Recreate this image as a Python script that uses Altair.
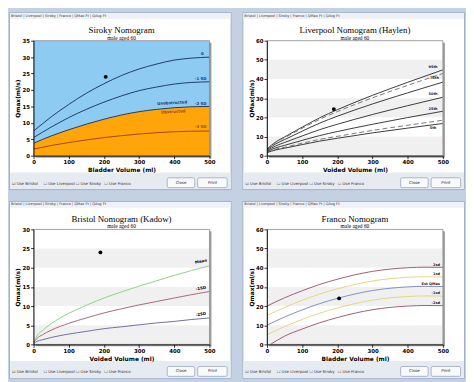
import altair as alt
import pandas as pd

W, H = 179, 117

# ---------------- data ----------------
siroky_x = [0, 50, 100, 150, 200, 250, 300, 350, 400, 450, 500]
siroky_0 = [7.5, 11.8, 15.6, 19.0, 21.9, 24.4, 26.4, 27.9, 29.1, 29.7, 30.0]
siroky_m1 = [5.5, 8.7, 11.6, 14.1, 16.3, 18.2, 19.8, 20.9, 21.8, 22.3, 22.5]
siroky_m2 = [3.8, 6.0, 7.9, 9.6, 11.1, 12.4, 13.4, 14.1, 14.6, 14.9, 15.0]
siroky_m3 = [2.0, 3.1, 4.0, 4.8, 5.5, 6.1, 6.6, 7.0, 7.3, 7.45, 7.5]

liv_x = [0, 25, 50, 100, 150, 200, 300, 400, 500]
liv_95 = [3.5, 7.2, 9.8, 14.9, 19.8, 24.0, 31.5, 38.3, 44.8]
liv_d_hi = [3.4, 7.0, 9.4, 14.3, 19.0, 23.0, 30.2, 36.7, 42.9]
liv_75 = [3.0, 6.2, 8.4, 12.8, 17.0, 20.6, 27.0, 32.8, 38.4]
liv_50 = [2.6, 5.1, 6.9, 10.3, 13.6, 16.4, 21.5, 26.1, 30.5]
liv_25 = [2.2, 4.1, 5.4, 8.0, 10.5, 12.6, 16.4, 19.9, 23.2]
liv_d_lo = [1.9, 3.4, 4.4, 6.5, 8.5, 10.1, 13.2, 15.9, 18.5]
liv_5 = [1.6, 3.0, 3.9, 5.8, 7.6, 9.1, 11.9, 14.4, 16.8]

bri_x = [0, 10, 25, 50, 100, 150, 200, 250, 300, 350, 400, 450, 500]
bri_mean = [0.5, 2.3, 3.6, 5.4, 8.1, 10.2, 12.1, 13.7, 15.2, 16.6, 18.0, 19.3, 20.5]
bri_m1 = [0.4, 1.6, 2.5, 3.7, 5.5, 6.9, 8.2, 9.3, 10.3, 11.2, 12.1, 13.0, 13.8]
bri_m2 = [0.2, 0.8, 1.2, 1.8, 2.7, 3.4, 4.1, 4.6, 5.1, 5.6, 6.0, 6.5, 6.9]

fra_x = [0, 50, 100, 150, 200, 250, 300, 350, 400, 450, 500]
fra_p2 = [20.0, 24.3, 28.0, 31.3, 34.0, 36.3, 38.1, 39.3, 40.0, 40.3, 40.2]
fra_p1 = [15.0, 19.3, 23.0, 26.3, 29.0, 31.3, 33.1, 34.3, 35.0, 35.3, 35.2]
fra_est = [10.0, 14.3, 18.0, 21.3, 24.0, 26.3, 28.1, 29.3, 30.0, 30.3, 30.2]
fra_m1 = [5.0, 9.3, 13.0, 16.3, 19.0, 21.3, 23.1, 24.3, 25.0, 25.3, 25.2]
fra_m2_x = [10, 50, 100, 150, 200, 250, 300, 350, 400, 450, 500]
fra_m2 = [0.0, 4.3, 8.0, 11.3, 14.0, 16.3, 18.1, 19.3, 20.0, 20.3, 20.2]

bands_60_lo = [0, 20, 40]
bands_60_hi = [10, 30, 50]
bands_30_lo = [0, 10, 20]
bands_30_hi = [5, 15, 25]

patient_siroky = (205, 24)
patient_liv = (190, 24.3)
patient_bri = (190, 24)
patient_fra = (205, 24)

dummy = pd.DataFrame({"d": [0]})
SANS = "DejaVu Sans"
SERIF = "Liberation Serif, Times New Roman, serif"

WX0, WX1, WY0, WY1 = -24.5, 201, -28.5, 151.5


def rect(x, x2, y, y2, **kw):
    return alt.Chart(dummy).mark_rect(**kw).encode(
        x=alt.value(x), x2=alt.value(x2), y=alt.value(y), y2=alt.value(y2))


def label(text, x, y, **kw):
    if "font" not in kw:
        kw["font"] = SANS
    return alt.Chart(dummy).mark_text(text=text, **kw).encode(
        x=alt.value(x), y=alt.value(y))


def chrome(title, subtitle):
    return [
        rect(WX0, WX1, WY0, WY1, fill="white", stroke="#9fb0c8", strokeWidth=1),
        rect(WX0 + 0.5, WX1 - 0.5, WY0 + 0.5, -22, fill="#eef1f5"),
        label("Bristol | Liverpool | Siroky | Franco | QMax Ft | QAvg Ft", -23, -25.5,
              fontSize=3.6, align="left", baseline="middle", color="#333"),
        rect(WX0 + 0.5, WX1 - 0.5, 134, WY1 - 0.5, fill="#e6ebf2"),
        label("\u2611 Use Bristol", -22, 145.5, fontSize=4, align="left", baseline="middle", color="#333"),
        label("\u2610 Use Liverpool", 10, 145.5, fontSize=4, align="left", baseline="middle", color="#333"),
        label("\u2610 Use Siroky", 43, 145.5, fontSize=4, align="left", baseline="middle", color="#333"),
        label("\u2610 Use Franco", 72, 145.5, fontSize=4, align="left", baseline="middle", color="#333"),
        rect(136, 164, 139.5, 149.5, fill="#f8f9fb", stroke="#8e9bb0", strokeWidth=0.7, cornerRadius=1.5),
        rect(167, 197, 139.5, 149.5, fill="#f8f9fb", stroke="#8e9bb0", strokeWidth=0.7, cornerRadius=1.5),
        label("Close", 150, 144.5, fontSize=4, align="center", baseline="middle", color="#222"),
        label("Print", 182, 144.5, fontSize=4, align="center", baseline="middle", color="#222"),
        label(title, W / 2, -10.5, font=SERIF, fontSize=9, align="center", color="black"),
        label(subtitle, W / 2, -3, font=SERIF, fontSize=5.5, align="center", color="black"),
        rect(2, W + 2, 2, H + 2, fill="#9c9c9c"),
    ]


AX = dict(zindex=1, grid=False, tickSize=3, tickColor="black", domainColor="black",
          labelColor="black", labelFont=SANS, labelFontSize=5.5, labelFontWeight="bold",
          labelPadding=1, titleFont=SANS, titleFontSize=6, titleFontWeight="bold",
          titleColor="black", titlePadding=1.5, tickWidth=0.8, domainWidth=0.8)


def xaxis(title):
    return alt.Axis(title=title, values=[0, 100, 200, 300, 400, 500], labelFlush=False, **AX)


def yaxis(title, vals):
    return alt.Axis(title=title, values=vals, **AX)


def enc(xtitle, ytitle, ymax, ystep):
    xe = alt.X("x:Q", scale=alt.Scale(domain=[0, 500], nice=False), axis=xaxis(xtitle))
    ye = alt.Y("y:Q", scale=alt.Scale(domain=[0, ymax], nice=False),
               axis=yaxis(ytitle, list(range(0, ymax + 1, ystep))))
    return xe, ye


def curve_layer(xs, ys, xe, ye, color, dash=None, width=1.0):
    df = pd.DataFrame({"x": xs, "y": ys})
    kw = dict(color=color, strokeWidth=width, interpolate="monotone")
    if dash:
        kw["strokeDash"] = dash
    return alt.Chart(df).mark_line(**kw).encode(x=xe, y=ye)


def text_layer(xs, ys, texts, xe, ye, color="black", size=4.5, angle=0, align="center", baseline="middle"):
    df = pd.DataFrame({"x": xs, "y": ys, "t": texts})
    return alt.Chart(df).mark_text(color=color, fontSize=size, fontWeight="bold", font=SANS,
                                   angle=angle, align=align, baseline=baseline).encode(
        x=xe, y=ye, text="t:N")


def dot_layer(p, xe, ye):
    df = pd.DataFrame({"x": [p[0]], "y": [p[1]]})
    return alt.Chart(df).mark_circle(size=16, color="black", opacity=1).encode(x=xe, y=ye)


def bands_layer(lo, hi, ymax, ystep, ytitle):
    df = pd.DataFrame({"lo": lo, "hi": hi})
    return alt.Chart(df).mark_rect(color="#f0f0f0").encode(
        x=alt.value(0), x2=alt.value(W),
        y=alt.Y("lo:Q", scale=alt.Scale(domain=[0, ymax], nice=False),
                axis=yaxis(ytitle, list(range(0, ymax + 1, ystep)))),
        y2="hi:Q")


border = rect(0, W, 0, H, fillOpacity=0, stroke="#8a8a8a", strokeWidth=0.8)

# ---------------- Siroky ----------------
xe, ye = enc("Bladder Volume (ml)", "Qmax(ml/s)", 35, 5)
NAVY = "#22396b"
BROWN = "#a0461e"
sir = alt.layer(
    *chrome("Siroky Nomogram", "male aged 60"),
    rect(0, W, 0, H, fill="#8dcbf3"),
    alt.Chart(pd.DataFrame({"x": siroky_x, "y": siroky_m2})).mark_area(
        color="#ffa50a", interpolate="monotone", opacity=1).encode(x=xe, y=ye),
    curve_layer(siroky_x, siroky_0, xe, ye, NAVY),
    curve_layer(siroky_x, siroky_m1, xe, ye, NAVY),
    curve_layer(siroky_x, siroky_m2, xe, ye, NAVY),
    curve_layer(siroky_x, siroky_m3, xe, ye, BROWN),
    text_layer([480, 475, 475], [30.8, 23.3, 15.8], ["0", "-1 SD", "-2 SD"], xe, ye, color=NAVY, size=4),
    text_layer([475], [8.7], ["-3 SD"], xe, ye, color=BROWN, size=4),
    text_layer([394], [16.0], ["Unobstructed"], xe, ye, color=NAVY, size=4, angle=357),
    text_layer([397], [13.3], ["Obstructed"], xe, ye, color=BROWN, size=4, angle=357),
    dot_layer(patient_siroky, xe, ye),
    border,
).properties(width=W, height=H)

# ---------------- Liverpool ----------------
xe, ye = enc("Voided Volume (ml)", "QMax(ml/s)", 60, 10)
DK = "#3a3a3a"
liv = alt.layer(
    *chrome("Liverpool Nomogram (Haylen)", "male aged 60"),
    rect(0, W, 0, H, fill="white"),
    bands_layer(bands_60_lo, bands_60_hi, 60, 10, "QMax(ml/s)"),
    curve_layer(liv_x, liv_95, xe, ye, DK),
    curve_layer(liv_x, liv_d_hi, xe, ye, "#777777", dash=[5, 3]),
    curve_layer(liv_x, liv_75, xe, ye, DK),
    curve_layer(liv_x, liv_50, xe, ye, DK),
    curve_layer(liv_x, liv_25, xe, ye, DK),
    curve_layer(liv_x, liv_d_lo, xe, ye, "#777777", dash=[5, 3]),
    curve_layer(liv_x, liv_5, xe, ye, DK),
    text_layer([472, 476, 472, 472, 472], [46.2, 40.4, 32.4, 24.4, 14.2],
               ["95th", "75th", "50th", "25th", "5th"], xe, ye, color="#222", size=3.6),
    dot_layer(patient_liv, xe, ye),
    border,
).properties(width=W, height=H)

# ---------------- Bristol ----------------
xe, ye = enc("Voided Volume (ml)", "Qmax(ml/s)", 30, 5)
bri = alt.layer(
    *chrome("Bristol Nomogram (Kadow)", "male aged 60"),
    rect(0, W, 0, H, fill="white"),
    bands_layer(bands_30_lo, bands_30_hi, 30, 5, "Qmax(ml/s)"),
    curve_layer(bri_x, bri_mean, xe, ye, "#8fd18a"),
    curve_layer(bri_x, bri_m1, xe, ye, "#a5687a"),
    curve_layer(bri_x, bri_m2, xe, ye, "#6e6f9e"),
    text_layer([476], [21.6], ["Mean"], xe, ye, size=4, angle=348),
    text_layer([476, 476], [14.6, 7.8], ["-1SD", "-2SD"], xe, ye, size=4, angle=352),
    dot_layer(patient_bri, xe, ye),
    border,
).properties(width=W, height=H)

# ---------------- Franco ----------------
xe, ye = enc("Bladder Volume (ml)", "Qmax(ml/s)", 60, 10)
MAROON = "#9e5c7c"
YEL = "#e3d67e"
fra = alt.layer(
    *chrome("Franco Nomogram", "male aged 60"),
    rect(0, W, 0, H, fill="white"),
    bands_layer(bands_60_lo, bands_60_hi, 60, 10, "Qmax(ml/s)"),
    curve_layer(fra_x, fra_p2, xe, ye, MAROON),
    curve_layer(fra_x, fra_p1, xe, ye, YEL),
    curve_layer(fra_x, fra_est, xe, ye, "#7f8fc0"),
    curve_layer(fra_x, fra_m1, xe, ye, YEL),
    curve_layer(fra_m2_x, fra_m2, xe, ye, MAROON),
    text_layer([492, 492, 492, 492, 492], [40.6, 35.6, 30.6, 25.6, 20.6],
               ["2sd", "1sd", "Est QMax", "-1sd", "-2sd"], xe, ye, color="#222", size=3.6,
               align="right", baseline="bottom"),
    dot_layer(patient_fra, xe, ye),
    border,
).properties(width=W, height=H)

chart = alt.vconcat(
    alt.hconcat(sir, liv, spacing=9.5),
    alt.hconcat(bri, fra, spacing=9.5),
    spacing=9,
).properties(padding=0, background="#c4d1e3").configure_view(
    stroke="transparent"
)

chart.save("out.html", embed_options={"renderer": "svg", "actions": False})
